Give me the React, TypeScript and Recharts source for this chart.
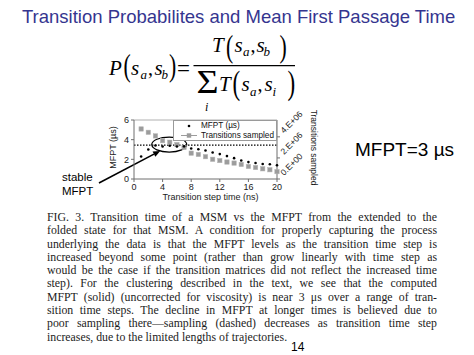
import {
	ComposedChart,
	Legend,
	Line,
	ReferenceDot,
	ReferenceLine,
	XAxis,
	YAxis,
} from "recharts";

// transition step time (ns)
const STEPS = [1, 2, 3, 4, 5, 6, 7, 8, 9, 10, 11, 12, 13, 14, 15, 16, 17, 18, 19, 20];
// MFPT (µs), left axis
const MFPT_US = [
	2.29, 3.0, 3.4, 3.3, 3.38, 3.3, 3.32, 3.1, 3.03, 2.9, 2.69, 2.53, 2.33, 2.12, 1.88, 1.72, 1.62,
	1.52, 1.5, 1.4,
];
// transitions sampled, right axis
const TRANSITIONS = [
	4750000, 4430000, 4090000, 3640000, 3490000, 3270000, 2990000, 2450000, 2330000, 2120000,
	1870000, 1750000, 1610000, 1510000, 1380000, 1190000, 1090000, 970000, 880000, 700000,
];
const X_TICKS = [0, 4, 8, 12, 16, 20];
const Y_TICKS = [0, 2, 4, 6];
const R_TICKS = [0, 2000000, 4000000];
const STABLE_LEVEL = 3.45;

const CAPTION = [
	"FIG. 3. Transition time of a MSM vs the MFPT from the extended to the",
	"folded state for that MSM. A condition for properly capturing the process",
	"underlying the data is that the MFPT levels as the transition time step is",
	"increased beyond some point (rather than grow linearly with time step as",
	"would be the case if the transition matrices did not reflect the increased time",
	"step). For the clustering described in the text, we see that the computed",
	"MFPT (solid) (uncorrected for viscosity) is near 3 \u03bcs over a range of tran-",
	"sition time steps. The decline in MFPT at longer times is believed due to",
	"poor sampling there\u2014sampling (dashed) decreases as transition time step",
	"increases, due to the limited lengths of trajectories.",
];

const rows = STEPS.map((t, i) => ({ t, mfpt: MFPT_US[i], trans: TRANSITIONS[i] }));

const SANS = "'Liberation Sans', Arial, sans-serif";
const SERIF = "'Liberation Serif', 'Times New Roman', serif";
const AXIS = "#6f6f6f";
const GREY = "#9c9c9c";

const tickStyle = { fontSize: 9, fill: "#1a1a1a", fontFamily: SANS };

function sciLabel(v: number) {
	return v === 0 ? "0.E+00" : `${Math.round(v / 1e6)}.E+06`;
}

function RightTick(props: any) {
	const { x, y, payload } = props;
	const tx = x + 2;
	const ty = y - 3;
	return (
		<text
			x={tx}
			y={ty}
			transform={`rotate(-45, ${tx}, ${ty})`}
			fontSize={8.5}
			fill="#1a1a1a"
			fontFamily={SANS}
			textAnchor="start"
		>
			{sciLabel(payload.value)}
		</text>
	);
}

function Square(props: any) {
	const { cx, cy } = props;
	if (cx == null || cy == null) return null;
	return <rect x={cx - 2.2} y={cy - 2.2} width={4.4} height={4.4} fill={GREY} stroke="#b5b5b5" strokeWidth={0.5} />;
}

function Arrow(props: any) {
	const { x1, y1, x2, y2 } = props;
	const a = Math.atan2(y2 - y1, x2 - x1);
	const len = 7;
	const w = 3;
	const bx = x2 - len * Math.cos(a);
	const by = y2 - len * Math.sin(a);
	const px = -Math.sin(a) * w;
	const py = Math.cos(a) * w;
	return (
		<g>
			<line x1={x1} y1={y1} x2={bx} y2={by} stroke="#000" strokeWidth={1.6} />
			<polygon points={`${x2},${y2} ${bx + px},${by + py} ${bx - px},${by - py}`} fill="#000" />
		</g>
	);
}

function LegendBox() {
	return (
		<div
			style={{
				width: 104,
				height: 21,
				boxSizing: "border-box",
				border: "1px solid #9a9a9a",
				background: "#fff",
				fontFamily: SANS,
				fontSize: 8.2,
				color: "#111",
				position: "relative",
			}}
		>
			<svg width={26} height={20} style={{ position: "absolute", left: 0, top: 0 }}>
				<circle cx={15} cy={5} r={1.3} fill="#000" />
				<line x1={7} y1={14.5} x2={23} y2={14.5} stroke={GREY} strokeWidth={1} />
				<rect x={12.8} y={12.3} width={4.4} height={4.4} fill={GREY} />
			</svg>
			<div style={{ position: "absolute", left: 27, top: 0, lineHeight: "10px" }}>MFPT (µs)</div>
			<div style={{ position: "absolute", left: 27, top: 10, lineHeight: "10px" }}>Transitions sampled</div>
		</div>
	);
}

function MfptChart() {
	return (
		<ComposedChart
			width={270}
			height={110}
			data={rows}
			margin={{ top: 20, right: 23, bottom: 6, left: 54 }}
		>
			<XAxis
				dataKey="t"
				type="number"
				domain={[0, 20]}
				ticks={X_TICKS}
				interval={0}
				tickSize={3}
				tick={tickStyle}
				stroke={AXIS}
				height={25}
				label={{
					value: "Transition step time (ns)",
					position: "insideBottom",
					offset: 4,
					dx: 5,
					style: { fontSize: 9, fill: "#1a1a1a", fontFamily: SANS },
				}}
			/>
			<YAxis
				yAxisId="l"
				domain={[0, 6]}
				ticks={Y_TICKS}
				interval={0}
				tickSize={3}
				tick={tickStyle}
				stroke={AXIS}
				width={20}
				label={{
					content: (p: any) => {
						const vb = p.viewBox;
						const cx = vb.x - 1;
						const cy = vb.y + vb.height / 2 - 2;
						return (
							<text
								x={cx}
								y={cy}
								transform={`rotate(-90, ${cx}, ${cy})`}
								textAnchor="middle"
								dominantBaseline="central"
								fontSize={9}
								fill="#1a1a1a"
								fontFamily={SANS}
							>
								MFPT (µs)
							</text>
						);
					},
				}}
			/>
			<YAxis
				yAxisId="r"
				orientation="right"
				domain={[0, 5600000]}
				ticks={R_TICKS}
				interval={0}
				tickSize={3}
				tick={<RightTick />}
				stroke={AXIS}
				width={30}
				label={{
					content: (p: any) => {
						const vb = p.viewBox;
						const cx = vb.x + 37;
						const cy = vb.y + vb.height / 2 - 2;
						return (
							<text
								x={cx}
								y={cy}
								transform={`rotate(90, ${cx}, ${cy})`}
								textAnchor="middle"
								dominantBaseline="central"
								fontSize={8.5}
								fill="#1a1a1a"
								fontFamily={SANS}
							>
								Transitions sampled
							</text>
						);
					},
				}}
			/>
			<ReferenceLine yAxisId="l" y={6} stroke="#b0b0b0" strokeWidth={1} />
			<ReferenceLine yAxisId="l" y={STABLE_LEVEL} stroke="#000" strokeWidth={1.3} strokeDasharray="1.5 1.5" />
			<Line
				yAxisId="r"
				dataKey="trans"
				name="Transitions sampled"
				stroke="none"
				dot={<Square />}
				activeDot={false}
				isAnimationActive={false}
			/>
			<Line
				yAxisId="l"
				dataKey="mfpt"
				name="MFPT (µs)"
				stroke="none"
				dot={{ r: 1.3, fill: "#000", stroke: "none" }}
				activeDot={false}
				isAnimationActive={false}
			/>
			<ReferenceDot
				yAxisId="l"
				x={4.93}
				y={3.5}
				ifOverflow="visible"
				shape={(p: any) => (
					<ellipse cx={p.cx} cy={p.cy} rx={17.5} ry={7.5} fill="none" stroke="#000" strokeWidth={1.2} />
				)}
			/>
			<ReferenceLine
				yAxisId="l"
				ifOverflow="visible"
				segment={[
					{ x: -4.9, y: -0.4 },
					{ x: 3.66, y: 2.86 },
				]}
				shape={<Arrow />}
			/>
			<Legend
				layout="vertical"
				align="center"
				verticalAlign="middle"
				wrapperStyle={{ left: 113, top: 20, width: 104, height: 21 }}
				content={() => <LegendBox />}
			/>
		</ComposedChart>
	);
}

function Formula() {
	const it = { fontFamily: SERIF, fontStyle: "italic" as const, fill: "#000" };
	const rm = { fontFamily: SERIF, fill: "#000" };
	const paren = (x: number, y: number, ch: string, size: number) => (
		<text transform={`translate(${x}, ${y}) scale(0.7, 1)`} fontSize={size} {...rm}>
			{ch}
		</text>
	);
	return (
		<svg width={474} height={115} style={{ position: "absolute", left: 0, top: 0 }}>
			<text x={109} y={75} fontSize={21} {...it}>P</text>
			{paren(123.5, 76, "(", 31)}
			<text x={131} y={75} fontSize={21} {...it}>s</text>
			<text x={140.5} y={79} fontSize={13} {...it}>a</text>
			<text x={148} y={75} fontSize={20} {...rm}>,</text>
			<text x={154.5} y={75} fontSize={21} {...it}>s</text>
			<text x={161.5} y={79} fontSize={13} {...it}>b</text>
			{paren(169, 76, ")", 31)}
			<text x={177} y={75.5} fontSize={23} {...rm}>=</text>
			<line x1={193.5} y1={65.7} x2={295} y2={65.7} stroke="#000" strokeWidth={1.2} />
			<text x={212} y={51.5} fontSize={21} {...it}>T</text>
			{paren(226, 57, "(", 31)}
			<text x={234.5} y={51.5} fontSize={21} {...it}>s</text>
			<text x={243} y={56} fontSize={13} {...it}>a</text>
			<text x={250.5} y={51.5} fontSize={20} {...rm}>,</text>
			<text x={256.5} y={51.5} fontSize={21} {...it}>s</text>
			<text x={263.5} y={56} fontSize={13} {...it}>b</text>
			{paren(279.5, 57, ")", 31)}
			<text transform="translate(196.5, 93) scale(1.15, 1)" fontSize={33} {...rm}>Σ</text>
			<text x={219} y={91} fontSize={21} {...it}>T</text>
			{paren(232.5, 94, "(", 33)}
			<text x={241.5} y={91} fontSize={21} {...it}>s</text>
			<text x={250} y={95.5} fontSize={13} {...it}>a</text>
			<text x={257.5} y={91} fontSize={20} {...rm}>,</text>
			<text x={264.5} y={91} fontSize={21} {...it}>s</text>
			<text x={272.5} y={95.5} fontSize={13} {...it}>i</text>
			{paren(287.5, 94, ")", 33)}
			<text x={205} y={111} fontSize={12} {...it}>i</text>
		</svg>
	);
}

export default function App() {
	return (
		<div
			style={{
				position: "fixed",
				left: 0,
				top: 0,
				width: 474,
				height: 355,
				background: "#fff",
				overflow: "hidden",
			}}
		>
			<div
				style={{
					position: "absolute",
					left: 22,
					top: 4,
					fontFamily: SANS,
					fontSize: 18.5,
					color: "#35358f",
					whiteSpace: "nowrap",
					lineHeight: "26px",
				}}
			>
				Transition Probabilites and Mean First Passage Time
			</div>
			<Formula />
			<div style={{ position: "absolute", left: 60, top: 100 }}>
				<MfptChart />
			</div>
			<div
				style={{
					position: "absolute",
					left: 355,
					top: 139,
					fontFamily: SANS,
					fontSize: 19,
					lineHeight: "22px",
					color: "#000",
					whiteSpace: "nowrap",
				}}
			>
				MFPT=3 µs
			</div>
			<div
				style={{
					position: "absolute",
					left: 62,
					top: 170,
					fontFamily: SANS,
					fontSize: 11.5,
					lineHeight: "14px",
					color: "#000",
				}}
			>
				<div>stable</div>
				<div>MFPT</div>
			</div>
			<div
				style={{
					position: "absolute",
					left: 47,
					top: 211,
					width: 390,
					fontFamily: SERIF,
					fontSize: 11.8,
					lineHeight: "13.3px",
					color: "#1c1c1c",
				}}
			>
				{CAPTION.map((line, i) => (
					<div
						key={i}
						style={{
							textAlign: i < CAPTION.length - 1 ? "justify" : "left",
							textAlignLast: i < CAPTION.length - 1 ? "justify" : "left",
							whiteSpace: "nowrap",
						}}
					>
						{line}
					</div>
				))}
			</div>
			<div
				style={{
					position: "absolute",
					left: 291,
					top: 340,
					fontFamily: SANS,
					fontSize: 12,
					lineHeight: "14px",
					color: "#000",
				}}
			>
				14
			</div>
		</div>
	);
}
